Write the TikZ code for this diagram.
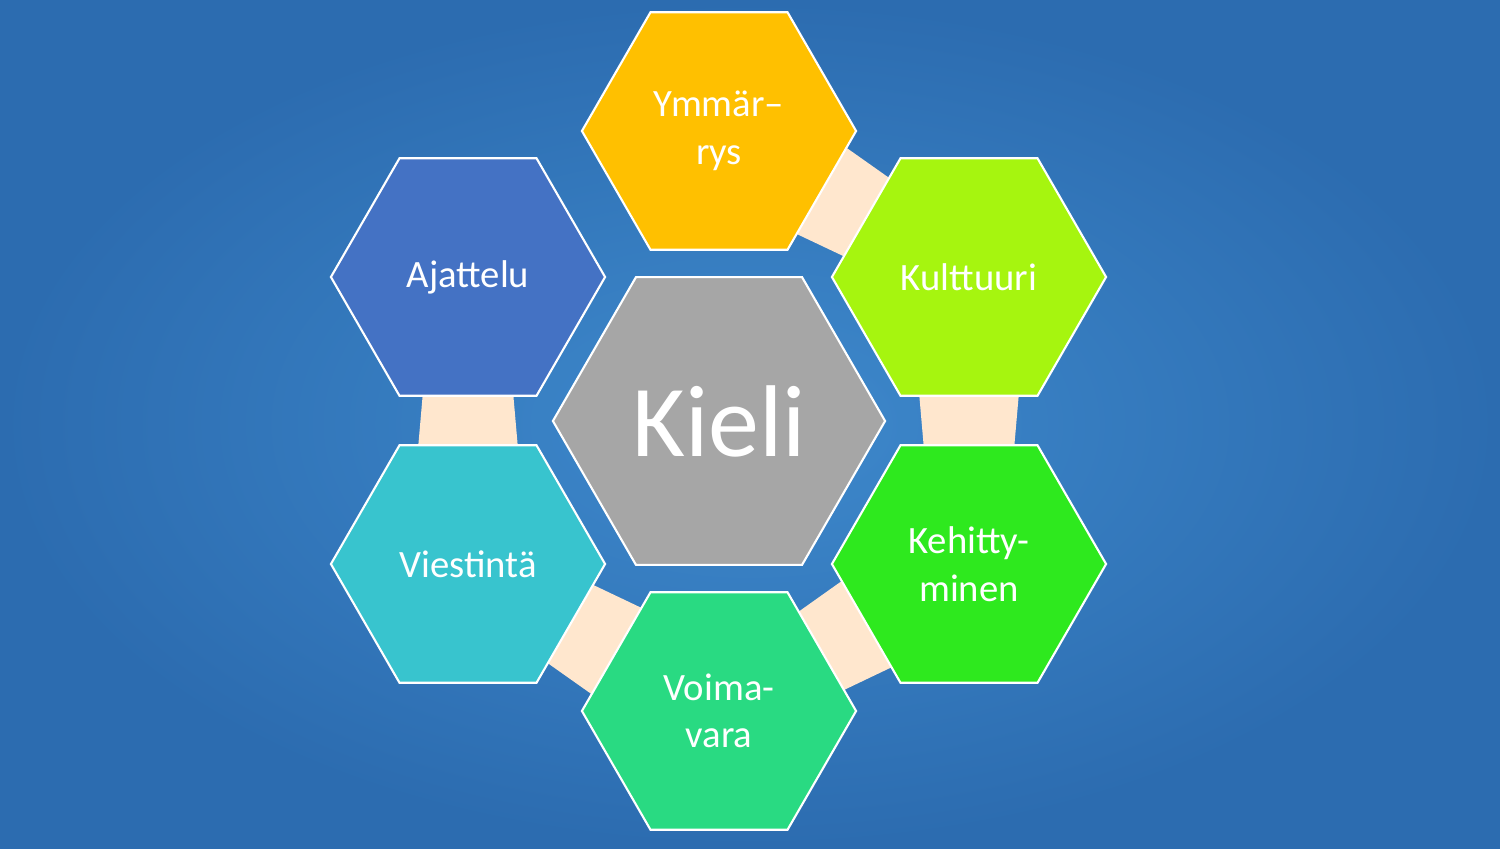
\documentclass[tikz,border=0pt]{standalone}
\usepackage{fontspec}
\setmainfont{Carlito}
\usetikzlibrary{shapes.geometric,calc}
\definecolor{bgmid}{RGB}{62,137,204}
\definecolor{bgout}{RGB}{44,108,176}
\definecolor{bridge}{RGB}{255,231,206}
\definecolor{cymm}{RGB}{255,192,0}
\definecolor{ckul}{RGB}{166,245,15}
\definecolor{ckeh}{RGB}{46,233,30}
\definecolor{cvoi}{RGB}{41,218,130}
\definecolor{cvie}{RGB}{56,196,206}
\definecolor{caja}{RGB}{68,114,196}
\definecolor{ckie}{RGB}{166,166,166}

\begin{document}
\begin{tikzpicture}
			[x=0.01cm,y=-0.01cm,
			 hex/.style={regular polygon,regular polygon sides=6,draw=white,semithick,
			   inner sep=0pt,minimum size=2.74cm,text=white,align=center,
			   font=\fontsize{11pt}{13.5pt}\selectfont},
			 link/.style={fill=bridge,draw=none}]
			\shade[inner color=bgmid,outer color=bgout] (0,0) rectangle (1500,848);
			\useasboundingbox (0,0) rectangle (1500,848);

			\coordinate (ymm) at (719,131);
			\coordinate (kul) at (969,277);
			\coordinate (keh) at (969,564);
			\coordinate (voi) at (719,711);
			\coordinate (vie) at (468,564);
			\coordinate (aja) at (468,277);

			% bridges between neighbouring hexagons
			\foreach \a/\b in {ymm/kul,kul/keh,keh/voi,voi/vie,vie/aja}
			  \fill[link] ($(\a)!0.6cm!90:(\b)$) -- ($(\a)!0.6cm!-90:(\b)$)
			    -- ($(\b)!0.35cm!90:(\a)$) -- ($(\b)!0.35cm!-90:(\a)$) -- cycle;

			\node (kieli) [hex,fill=ckie,minimum size=3.32cm,
			  font=\fontsize{29pt}{34pt}\selectfont] at (719,421) {Kieli};
			\node (n1) [hex,fill=cymm] at (ymm) {Ymmär–\\rys};
			\node (n2) [hex,fill=ckul] at (kul) {Kulttuuri};
			\node (n3) [hex,fill=ckeh] at (keh) {Kehitty-\\minen};
			\node (n4) [hex,fill=cvoi] at (voi) {Voima-\\vara};
			\node (n5) [hex,fill=cvie] at (vie) {Viestintä};
			\node (n6) [hex,fill=caja] at (aja) {Ajattelu};
		\end{tikzpicture}
\end{document}
